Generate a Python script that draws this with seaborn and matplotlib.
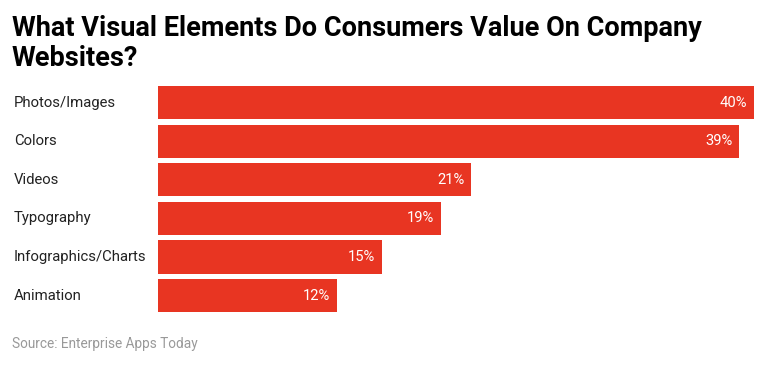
#!/usr/bin/env python3
"""Horizontal bar chart: visual elements consumers value on company websites."""
import matplotlib
matplotlib.use("Agg")
import matplotlib.pyplot as plt
import pandas as pd
import seaborn as sns

categories = ["Photos/Images", "Colors", "Videos", "Typography",
              "Infographics/Charts", "Animation"]
shares = [40, 39, 21, 19, 15, 12]

BAR_COLOR = "#E83522"

sns.set_style("white")
plt.rcParams["font.family"] = ["Roboto", "DejaVu Sans"]

df = pd.DataFrame({"category": categories, "share": shares})

fig = plt.figure(figsize=(7.68, 3.65), dpi=100)
ax = fig.add_axes([158 / 768, 0.1375, 596 / 768, 0.772 - 0.1375])

sns.barplot(data=df, x="share", y="category", orient="h", color=BAR_COLOR,
            width=0.86, saturation=1, ax=ax, edgecolor="none")

ax.set_xlim(0, 40)
ax.set_ylim(5.5, -0.5)
ax.set_xlabel("")
ax.set_ylabel("")
ax.set_xticks([])
ax.set_yticks([])
for s in ax.spines.values():
    s.set_visible(False)

# value labels inside bar ends
for i, v in enumerate(shares):
    ax.text(v - 0.45, i, f"{v}%", color="white", fontsize=10.6,
            ha="right", va="center")

# category labels, left aligned at the figure edge
for i, c in enumerate(categories):
    y_fig = ax.transData.transform((0, i))[1] / fig.dpi / 3.65
    fig.text(14 / 768, y_fig, c, fontsize=10.7, color="#222222",
             ha="left", va="center")

fig.text(12 / 768, 1 - 15 / 365,
         "What Visual Elements Do Consumers Value On Company\nWebsites?",
         fontsize=19.5, fontweight="bold", color="black",
         ha="left", va="top", linespacing=1.12)

fig.text(12 / 768, 1 - 344 / 365, "Source: Enterprise Apps Today",
         fontsize=9.8, color="#999999", ha="left", va="center")

fig.savefig("out.png", dpi=100)
